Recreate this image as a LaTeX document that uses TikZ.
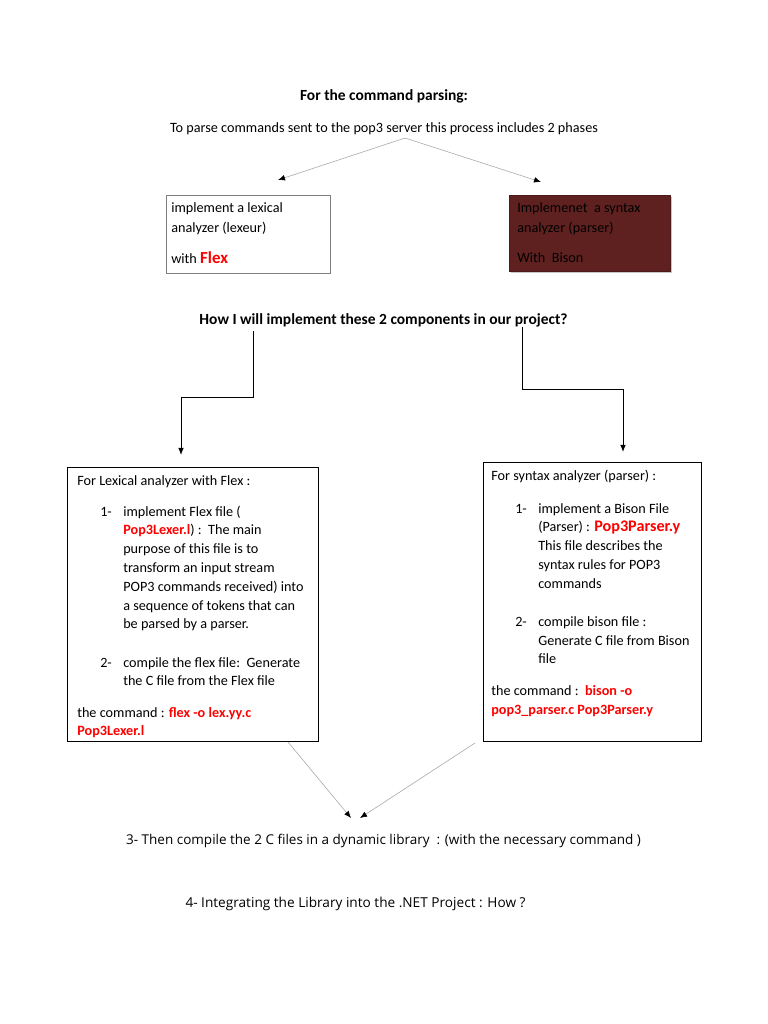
\documentclass[tikz,border=0pt]{standalone}
\usepackage{fontspec}
\setmainfont{Carlito}
\newfontfamily\stepfont{Open Sans}
\usepackage{tikz}
\usetikzlibrary{arrows.meta,positioning}
\definecolor{cardred}{RGB}{95,33,32}
\definecolor{cmdred}{RGB}{255,0,0}
\newcommand{\redcmd}[1]{\textcolor{cmdred}{\textbf{#1}}}

\begin{document}
\begin{tikzpicture}[x=0.025cm, y=-0.025cm, every node/.style={font=\fontsize{10.1}{12}\selectfont, inner sep=0pt},
    line/.style={anchor=base west, yshift=-0.05cm},
    head/.style={anchor=base, yshift=-0.05cm},
    flow/.style={draw=gray!70, line width=0.4pt, -{Latex[black,length=5pt,width=4pt]}},
    elbow/.style={draw=black, line width=0.7pt, -{Latex[length=5pt,width=4pt]}},
    card/.style={anchor=north west, draw, line width=0.6pt}]
    \useasboundingbox[fill=white] (0,0) rectangle (768,1024);
    % Headings
    \node[head, font=\fontsize{11}{12}\selectfont\bfseries] (title) at (384,99) {For the command parsing:};
    \node[head] (intro) at (384,131) {To parse commands sent to the pop3 server this process includes 2 phases};
    % Phase cards
    \node[card, draw=gray, minimum width=164*0.025cm, minimum height=78*0.025cm] (lexcard) at (166,195) {};
    \fill[gray!45] (511,197) rectangle (672,273);
    \node[card, draw=cardred!80!black, fill=cardred, minimum width=161*0.025cm, minimum height=76*0.025cm] (syncard) at (509,195) {};
    \node[line] (lexa) at (171,211) {implement a lexical};
    \node[line] (lexb) at (171,230) {analyzer (lexeur)};
    \node[line] (lexc) at (171,261) {with \textcolor{cmdred}{\fontsize{12}{12}\selectfont\bfseries Flex}};
    \node[line] (syna) at (517,211) {Implemenet\ \ a syntax};
    \node[line] (synb) at (517,230) {analyzer (parser)};
    \node[line] (sync) at (517,260) {With\ \ Bison};
    % Split arrows
    \coordinate (split) at (405,138);
    \coordinate (lexin) at (278,180);
    \coordinate (synin) at (541,182);
    \draw[flow] (split) -- (lexin);
    \draw[flow] (split) -- (synin);
    \node[head, font=\fontsize{11}{12}\selectfont\bfseries] (howto) at (383.5,322) {How I will implement these 2 components in our project?};
    % Elbow arrows
    \coordinate (howl) at (253,331);
    \coordinate (howr) at (522,327);
    \coordinate (lexdrop) at (181,455);
    \coordinate (syndrop) at (623,452);
    \draw[elbow] (howl) -- (253,397) -- (181,397) -- (lexdrop);
    \draw[elbow] (howr) -- (522,389) -- (623,389) -- (syndrop);
    % Flex box
    \node[card, minimum width=251*0.025cm, minimum height=274*0.025cm] (flexbox) at (67,467) {};
    \node[line] (flexhead) at (77,483) {For Lexical analyzer with Flex :};
    \node[line] (flexone) at (100,514) {1-};
    \foreach \t [count=\k from 0] in {{implement Flex file (}, {\redcmd{Pop3Lexer.l}) :\ \ The main}, {purpose of this file is to}, {transform an input stream}, {POP3 commands received) into}, {a sequence of tokens that can}, {be parsed by a parser.}}
        \node[line] (flexa\k) at (123,514+18.8*\k) {\t};
    \node[line] (flextwo) at (100,665) {2-};
    \node[line] (flexb0) at (123,665) {compile the flex file:\ \ Generate};
    \node[line] (flexb1) at (123,683) {the C file from the Flex file};
    \node[line] (flexcmd) at (77,715) {the command : \redcmd{flex -o lex.yy.c}};
    \node[line] (flexcmdb) at (77,733) {\redcmd{Pop3Lexer.l}};
    % Bison box
    \node[card, minimum width=218*0.025cm, minimum height=279*0.025cm] (bisonbox) at (483,462) {};
    \node[line] (bisonhead) at (491,478) {For syntax analyzer (parser) :};
    \node[line] (bisonone) at (515,511) {1-};
    \foreach \t [count=\k from 0] in {{implement a Bison File}, {(Parser) : \textcolor{cmdred}{\fontsize{11.5}{12}\selectfont\bfseries Pop3Parser.y}}, {This file describes the}, {syntax rules for POP3}, {commands}}
        \node[line] (bisona\k) at (538,511+18.8*\k) {\t};
    \node[line] (bisontwo) at (515,624) {2-};
    \node[line] (bisonb0) at (538,624) {compile bison file :};
    \node[line] (bisonb1) at (538,643) {Generate C file from Bison};
    \node[line] (bisonb2) at (538,661) {file};
    \node[line] (bisoncmd) at (491,693) {the command :\ \ \redcmd{bison -o}};
    \node[line] (bisoncmdb) at (491,712) {\redcmd{pop3\_parser.c Pop3Parser.y}};
    % Merge arrows
    \coordinate (lexout) at (288,742);
    \coordinate (synout) at (475,743);
    \coordinate (mergel) at (351,818);
    \coordinate (merger) at (360,818);
    \draw[flow] (lexout) -- (mergel);
    \draw[flow] (synout) -- (merger);
    % Steps
    \node[head, font=\stepfont\fontsize{9.6}{12}\selectfont] (compile) at (383.5,842) {3- Then compile the 2 C files in a dynamic library\ \ : (with the necessary command )};
    \node[head, font=\stepfont\fontsize{9.7}{12}\selectfont] (integrate) at (355.5,905) {4- Integrating the Library into the .NET Project : How ?};
\end{tikzpicture}
\end{document}
